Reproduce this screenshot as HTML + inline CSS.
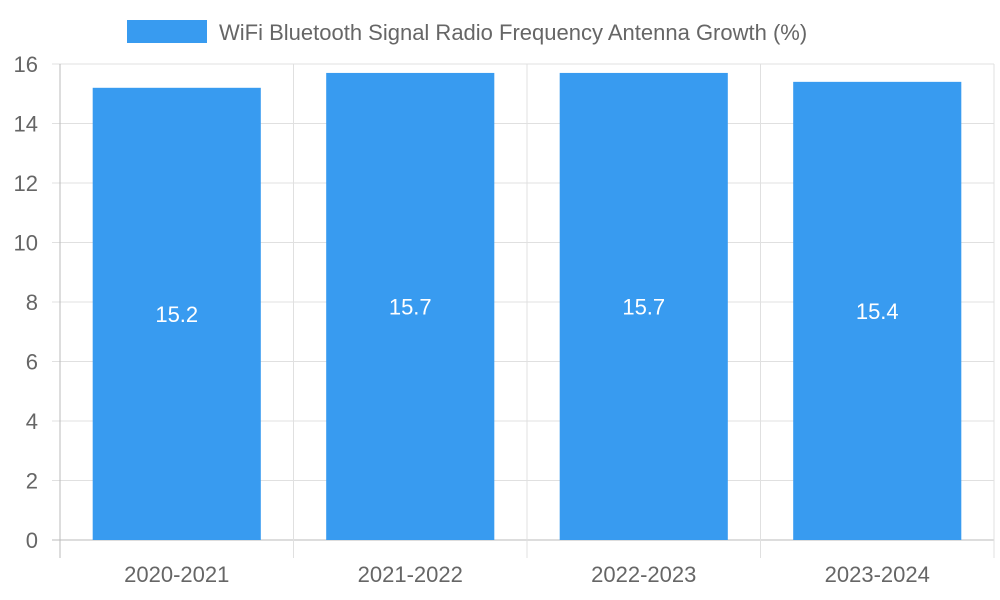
<!DOCTYPE html>
<html><head><meta charset="utf-8"><style>
html,body{margin:0;padding:0;background:#fff;}
svg{display:block;font-family:"Liberation Sans",sans-serif;}
</style></head><body>
<svg id="chart" width="1000" height="600">
<g id="grid"></g>
<g id="bars"></g>
<g id="legend">
<rect x="127" y="20" width="80" height="23" fill="#389bf0"/>
<text x="219" y="40" font-size="22" fill="#666">WiFi Bluetooth Signal Radio Frequency Antenna Growth (%)</text>
</g>
</svg>
<script>
const categories = ["2020-2021","2021-2022","2022-2023","2023-2024"];
const values = [15.2,15.7,15.7,15.4];
const yTicks = [0,2,4,6,8,10,12,14,16];
const NS="http://www.w3.org/2000/svg";
const L=60,R=994,T=64,B=540,yMax=16;
const y=v=>B-(v/yMax)*(B-T);
const bw=(R-L)/categories.length;
const x=i=>L+i*bw;
function mk(tag,attrs,parent){const e=document.createElementNS(NS,tag);for(const k in attrs)e.setAttribute(k,attrs[k]);parent.appendChild(e);return e;}
const grid=document.getElementById('grid'),bars=document.getElementById('bars');
yTicks.forEach(t=>{
  const ln=mk('line',{x1:52,x2:R,y1:y(t),y2:y(t),stroke:t===0?'#bbb':'#e0e0e0','stroke-width':1},grid);
  
  
  const tx=mk('text',{x:38,y:y(t)+8,'text-anchor':'end','font-size':22,fill:'#666'},grid);
  tx.textContent=t;
  
  
});
for(let i=0;i<=categories.length;i++){
  const ln=mk('line',{x1:x(i),x2:x(i),y1:T,y2:558,stroke:i===0?'#bbb':'#e0e0e0','stroke-width':1},grid);
  
  
}
categories.forEach((c,i)=>{
  const w=bw*0.72,bx=x(i)+(bw-w)/2,top=y(values[i]);
  const r=mk('rect',{x:bx,y:top,width:w,height:B-top,fill:'#389bf0'},bars);
  
  
  const v=mk('text',{x:bx+w/2,y:(top+B)/2+8,'text-anchor':'middle','font-size':22,fill:'#fff'},bars);
  v.textContent=values[i];
  
  
  const xl=mk('text',{x:x(i)+bw/2,y:582,'text-anchor':'middle','font-size':22,fill:'#666'},grid);
  xl.textContent=c;
  
  
});
</script>
</body></html>
